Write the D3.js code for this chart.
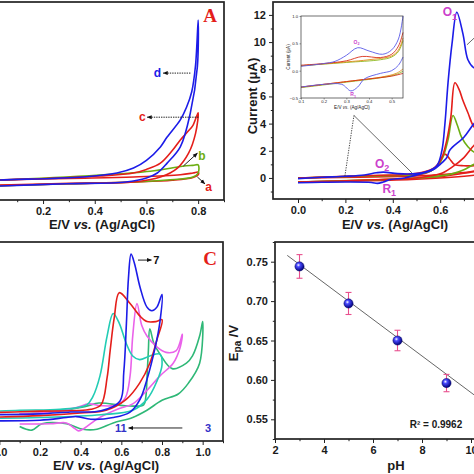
<!DOCTYPE html>
<html>
<head>
<meta charset="utf-8">
<script src="https://cdn.jsdelivr.net/npm/d3@7"></script>
<style>
  body { margin: 0; background: #fff; }
  svg { display: block; font-family: "Liberation Sans", Arial, sans-serif; }
  .axis text { font-size: 11px; font-weight: bold; fill: #1a1a1a; }
  .axis line { stroke: #222; }
  .axis path { display: none; }
  .inax text { font-size: 4.2px; fill: #222; }
  .inax line { stroke: #333; stroke-width: 0.5; }
  .inax path { display: none; }
  .ttl { font-size: 13px; font-weight: bold; fill: #1a1a1a; }
</style>
</head>
<body>
<svg id="fig" width="474" height="474"></svg>
<script>
// ---- data ----
// Panel A : CV curves a-d  [E (V), i (arb.)]
const cvA_a = [[-0.1,-0.5],[0.03,-0.4],[0.3,-0.2],[0.55,0.0],[0.7,0.2],[0.78,0.5],[0.8,0.8],[0.8,1.1],[0.78,1.0],[0.731,0.8],[0.55,0.56],[0.3,0.4],[0.03,0.22],[-0.1,0.1]];
const cvA_b = [[-0.1,-0.5],[0.03,-0.4],[0.3,-0.2],[0.55,0.0],[0.68,0.22],[0.78,0.56],[0.8,1.0],[0.8,1.9],[0.78,1.85],[0.74,1.75],[0.615,1.2],[0.42,0.78],[0.03,0.22],[-0.1,0.1]];
const cvA_c = [[-0.1,-0.45],[0.03,-0.33],[0.3,-0.15],[0.55,0.0],[0.654,0.55],[0.72,1.55],[0.763,3.2],[0.79,5.4],[0.8,7.7],[0.78,6.3],[0.76,5.6],[0.731,4.67],[0.7,3.5],[0.654,2.1],[0.6,1.4],[0.55,1.0],[0.42,0.67],[0.03,0.22],[-0.1,0.1]];
const cvA_d = [[-0.1,-0.55],[0.03,-0.44],[0.29,-0.2],[0.52,0.0],[0.6,0.44],[0.642,1.0],[0.68,2.1],[0.731,3.9],[0.77,7.7],[0.797,12.8],[0.8,18],[0.79,13],[0.775,10],[0.755,8.3],[0.731,6.9],[0.68,5],[0.654,3.9],[0.6,2.4],[0.55,1.55],[0.486,1.0],[0.356,0.56],[0.03,0.22],[-0.1,0.05]];

// Panel B : CVs (current in uA)
const cvB_flat = [[0,-0.3],[0.5,-0.1],[0.78,0.3],[0.8,0.45],[0.78,0.55],[0.7,0.4],[0.6,0.25],[0.5,0.15],[0,0.0]];
const cvB_small = [[0,-0.3],[0.3,-0.15],[0.6,0.1],[0.7,0.35],[0.78,0.6],[0.8,0.8],[0.78,1.0],[0.743,0.9],[0.7,0.9],[0.66,1.0],[0.64,1.4],[0.62,1.75],[0.59,1.0],[0.56,0.5],[0.5,0.2],[0.3,0.12],[0,0.0]];
const cvB_green = [[0,-0.3],[0.3,-0.15],[0.55,0.05],[0.65,0.3],[0.7,0.6],[0.743,1.0],[0.78,1.2],[0.8,1.45],[0.78,1.7],[0.743,1.9],[0.717,2.3],[0.69,3.0],[0.672,3.9],[0.654,4.6],[0.633,2.8],[0.612,1.55],[0.59,0.9],[0.56,0.5],[0.5,0.25],[0.3,0.15],[0,0.0]];
const cvB_red = [[0,-0.3],[0.3,-0.15],[0.5,0.0],[0.6,0.3],[0.65,0.8],[0.7,1.5],[0.743,2.4],[0.78,2.9],[0.8,3.2],[0.78,3.3],[0.743,3.75],[0.717,4.8],[0.696,5.7],[0.68,6.5],[0.662,7.0],[0.645,4.5],[0.628,2.8],[0.607,1.5],[0.58,0.8],[0.52,0.4],[0.45,0.25],[0.35,0.2],[0.2,0.12],[0,0.0]];
const cvB_blue = [[0,-0.35],[0.1,-0.32],[0.2,-0.3],[0.31,-0.33],[0.335,-0.4],[0.36,-0.3],[0.39,-0.12],[0.45,0.0],[0.53,0.37],[0.57,0.6],[0.6,1.0],[0.628,1.5],[0.641,2.06],[0.7,3.0],[0.743,4.0],[0.78,4.6],[0.82,5.5],[0.82,8.5],[0.78,8.0],[0.743,8.1],[0.717,8.7],[0.696,10.6],[0.67,12.2],[0.65,9.9],[0.633,7.0],[0.62,4.0],[0.607,2.0],[0.586,0.9],[0.54,0.45],[0.48,0.3],[0.42,0.32],[0.36,0.43],[0.33,0.38],[0.28,0.22],[0.2,0.12],[0.1,0.05],[0,-0.05]];

// Inset of panel B
const inBlueUp = [[0.1,0.08],[0.2,0.13],[0.25,0.17],[0.3,0.28],[0.35,0.42],[0.4,0.36],[0.46,0.3],[0.5,0.38],[0.53,0.58],[0.55,1.0]];
const inBlueLo = [[0.1,-0.3],[0.2,-0.25],[0.28,-0.25],[0.32,-0.37],[0.35,-0.3],[0.38,-0.15],[0.45,-0.05],[0.5,0.0],[0.53,0.1],[0.55,0.25]];
const inRedUp = [[0.1,0.1],[0.2,0.13],[0.3,0.18],[0.37,0.26],[0.45,0.24],[0.5,0.3],[0.53,0.45],[0.55,0.7]];
const inOrgUp = [[0.1,0.09],[0.3,0.16],[0.4,0.2],[0.5,0.27],[0.53,0.38],[0.55,0.6]];
const inGrnUp = [[0.1,0.09],[0.3,0.15],[0.45,0.2],[0.5,0.25],[0.53,0.35],[0.55,0.55]];
const inRedLo = [[0.1,-0.3],[0.3,-0.2],[0.4,-0.15],[0.5,-0.1],[0.55,-0.05]];
const inOrgLo = [[0.1,-0.3],[0.3,-0.2],[0.45,-0.12],[0.52,-0.05],[0.55,0.03]];
const inGrnLo = [[0.1,-0.31],[0.3,-0.21],[0.45,-0.13],[0.52,-0.07],[0.55,-0.01]];

// Panel C : CVs at different pH (arb. current)
const cvC_sea = [[0.1,-0.2],[0.16,-0.4],[0.21,-0.05],[0.33,-0.05],[0.41,-0.35],[0.48,-0.35],[0.56,0.0],[0.656,0.3],[0.726,0.7],[0.8,1.25],[0.88,1.6],[0.93,2.2],[0.985,3.3],[1.0,5.6],[0.985,4.8],[0.95,3.7],[0.92,3.3],[0.85,3.0],[0.79,3.8],[0.76,4.4],[0.74,5.2],[0.733,4.0],[0.728,2.9],[0.72,1.4],[0.71,1.0],[0.62,0.95],[0.49,1.1],[0.42,0.9],[0.25,0.6],[0.1,0.5]];
const cvC_pink = [[0.1,-0.06],[0.25,-0.05],[0.33,0.0],[0.37,-0.3],[0.39,-0.44],[0.42,-0.28],[0.49,0.28],[0.59,0.8],[0.656,1.05],[0.726,1.8],[0.79,2.6],[0.855,3.3],[0.89,4.2],[0.9,4.9],[0.87,4.0],[0.82,3.9],[0.775,4.2],[0.726,4.8],[0.7,5.4],[0.677,6.6],[0.656,4.8],[0.643,2.6],[0.62,1.4],[0.58,1.0],[0.5,0.95],[0.44,1.05],[0.38,0.85],[0.25,0.6],[0.1,0.5]];
const cvC_teal = [[-0.1,0.25],[0.2,0.3],[0.5,0.45],[0.656,0.7],[0.726,1.3],[0.775,2.3],[0.8,3.2],[0.79,3.8],[0.74,3.7],[0.69,3.5],[0.656,3.7],[0.624,4.4],[0.59,5.5],[0.56,6.05],[0.53,4.8],[0.495,2.6],[0.46,1.45],[0.43,1.0],[0.3,0.75],[0.1,0.7],[-0.1,0.6]];
const cvC_red = [[-0.1,0.3],[0.2,0.4],[0.4,0.55],[0.525,0.7],[0.624,1.3],[0.69,2.2],[0.74,3.3],[0.775,4.6],[0.8,5.7],[0.77,5.6],[0.726,5.6],[0.692,5.9],[0.643,6.6],[0.59,7.2],[0.565,5.8],[0.545,4.0],[0.53,2.5],[0.5,1.0],[0.45,0.75],[0.2,0.65],[-0.1,0.55]];
const cvC_blue = [[-0.1,0.12],[0.2,0.15],[0.33,0.3],[0.38,0.35],[0.45,0.2],[0.56,0.3],[0.643,0.6],[0.692,1.3],[0.726,2.4],[0.767,4.2],[0.79,5.6],[0.8,7.1],[0.775,6.4],[0.75,6.2],[0.726,6.4],[0.692,7.5],[0.665,8.8],[0.648,9.33],[0.635,8.0],[0.625,5.5],[0.612,2.8],[0.593,1.2],[0.5,0.67],[0.35,0.6],[0.2,0.5],[-0.1,0.45]];

// Panel D : Epa vs pH
const pH = [3, 5, 7, 9];
const Epa = [0.744, 0.697, 0.650, 0.596];
const EpaErr = [0.015, 0.014, 0.013, 0.011];
const fitLine = [[2.5, 0.758], [10.6, 0.570]];

// ---- drawing ----
const svg = d3.select("#fig");
const defs = svg.append("defs");
defs.append("marker").attr("id", "ah").attr("viewBox", "0 0 10 10")
  .attr("refX", 9).attr("refY", 5).attr("markerWidth", 5).attr("markerHeight", 5)
  .attr("orient", "auto-start-reverse")
  .append("path").attr("d", "M0,1L10,5L0,9z").attr("fill", "#111");
const rg = defs.append("radialGradient").attr("id", "ball").attr("cx", "38%").attr("cy", "35%").attr("r", "65%");
rg.append("stop").attr("offset", "0%").attr("stop-color", "#ffffff");
rg.append("stop").attr("offset", "30%").attr("stop-color", "#4a4aff");
rg.append("stop").attr("offset", "100%").attr("stop-color", "#00007a");

const cBlue = "#1c1ce8", cRed = "#e41e1a", cGreen = "#6cae12", cMag = "#cc3fcc";

function drawCurve(g, data, x, y, color, w) {
  g.append("path").datum(data)
    .attr("fill", "none").attr("stroke", color).attr("stroke-width", w || 1.6)
    .attr("stroke-linejoin", "round")
    .attr("d", d3.line().x(d => x(d[0])).y(d => y(d[1])).curve(d3.curveCatmullRom.alpha(0.5)));
}

function xAxisTicks(x, yPos, major, minor, fmt) {
  svg.append("g").attr("class", "axis").attr("transform", `translate(0,${yPos})`)
    .call(d3.axisBottom(x).tickValues(major).tickSize(4).tickPadding(3).tickFormat(fmt));
  svg.append("g").attr("class", "axis").attr("transform", `translate(0,${yPos})`)
    .call(d3.axisBottom(x).tickValues(minor).tickSize(2.2).tickFormat(""));
}
function yAxisTicks(y, xPos, major, minor, fmt) {
  svg.append("g").attr("class", "axis").attr("transform", `translate(${xPos},0)`)
    .call(d3.axisLeft(y).tickValues(major).tickSize(4).tickPadding(3).tickFormat(fmt));
  svg.append("g").attr("class", "axis").attr("transform", `translate(${xPos},0)`)
    .call(d3.axisLeft(y).tickValues(minor).tickSize(2.2).tickFormat(""));
}
function frame(x0, y0, x1, y1) {
  svg.append("rect").attr("x", x0).attr("y", y0).attr("width", x1 - x0).attr("height", y1 - y0)
    .attr("fill", "none").attr("stroke", "#222").attr("stroke-width", 1.7);
}
function xTitle(cx, by, size) {
  const t = svg.append("text").attr("x", cx).attr("y", by).attr("text-anchor", "middle").attr("class", "ttl");
  if (size) t.style("font-size", size + "px");
  t.append("tspan").text("E/V ");
  t.append("tspan").attr("font-style", "italic").text("vs.");
  t.append("tspan").text(" (Ag/AgCl)");
  return t;
}
function subLabel(x, y, main, sub, color, size) {
  const t = svg.append("text").attr("x", x).attr("y", y).attr("text-anchor", "middle")
    .attr("fill", color).attr("font-weight", "bold").style("font-size", size + "px");
  t.append("tspan").text(main);
  t.append("tspan").attr("dy", size * 0.3).style("font-size", (size * 0.75) + "px").text(sub);
}
function arrow(x1, y1, x2, y2, dashed) {
  svg.append("line").attr("x1", x1).attr("y1", y1).attr("x2", x2).attr("y2", y2)
    .attr("stroke", "#222").attr("stroke-width", 1)
    .attr("stroke-dasharray", dashed ? "1.4,1" : null)
    .attr("marker-end", "url(#ah)");
}
const f1 = d3.format(".1f"), f2 = d3.format(".2f");
// labels that fall outside the cropped picture are left blank
const f1in = lim => d => (d < lim[0] || d > lim[1]) ? "" : f1(d);

// ===== Panel A =====
const xA = d3.scaleLinear().domain([-0.1, 0.9]).range([-34.5, 224]);
const yA = d3.scaleLinear().domain([-2, 20]).range([200, 2]);
const gA = svg.append("g");
drawCurve(gA, cvA_a, xA, yA, cRed);
drawCurve(gA, cvA_b, xA, yA, cGreen);
drawCurve(gA, cvA_c, xA, yA, cRed);
drawCurve(gA, cvA_d, xA, yA, cBlue);
frame(-40, 2, 224, 200);
xAxisTicks(xA, 200, [0, 0.2, 0.4, 0.6, 0.8], [0.1, 0.3, 0.5, 0.7, 0.9], f1in([0.1, 0.9]));
xTitle(102, 229);
svg.append("text").attr("x", 210).attr("y", 22).attr("text-anchor", "middle")
  .attr("fill", cRed).attr("font-family", "Liberation Serif").attr("font-weight", "bold")
  .style("font-size", "19px").text("A");
arrow(xA(0.77), yA(12.1), xA(0.665), yA(12.1), true);
arrow(xA(0.801), yA(7.2), xA(0.603), yA(7.2), true);
arrow(xA(0.743), yA(1.78), xA(0.797), yA(3.2), false);
arrow(xA(0.797), yA(0.56), xA(0.826), yA(-0.2), false);
[["d", 0.642, 12.1, cBlue], ["c", 0.584, 7.2, cRed], ["b", 0.815, 2.9, cGreen], ["a", 0.84, -0.6, cRed]]
  .forEach(l => svg.append("text").attr("x", xA(l[1])).attr("y", yA(l[2]) + 4)
    .attr("text-anchor", "middle").attr("fill", l[3]).attr("font-weight", "bold")
    .style("font-size", "12px").text(l[0]));

// ===== Panel B =====
const xB = d3.scaleLinear().domain([-0.1, 0.9]).range([274.3, 511.3]);
const yB = d3.scaleLinear().domain([-1.55, 12.95]).range([199, 2]);
const gB = svg.append("g");
drawCurve(gB, cvB_flat, xB, yB, cRed);
drawCurve(gB, cvB_small, xB, yB, cRed);
drawCurve(gB, cvB_green, xB, yB, cGreen);
drawCurve(gB, cvB_red, xB, yB, cRed);
drawCurve(gB, cvB_blue, xB, yB, cBlue);
frame(273, 2, 520, 199);
xAxisTicks(xB, 199, [0, 0.2, 0.4, 0.6, 0.8], [0.1, 0.3, 0.5, 0.7], f1in([-0.1, 0.7]));
yAxisTicks(yB, 273, [0, 2, 4, 6, 8, 10, 12], [-1, 1, 3, 5, 7, 9, 11], d3.format("d"));
xTitle(395, 229);
svg.append("text").attr("class", "ttl").attr("transform", "translate(257,96) rotate(-90)")
  .attr("text-anchor", "middle").text("Current (\u03bcA)");
subLabel(xB(0.641), yB(11.9), "O", "1", cMag, 12);
subLabel(xB(0.355), yB(0.75), "O", "2", cMag, 12);
subLabel(xB(0.385), yB(-1.1), "R", "1", cMag, 12);
// zoom lines to the inset
svg.append("line").attr("x1", xB(0.198)).attr("y1", yB(0.15)).attr("x2", xB(0.236)).attr("y2", yB(4.6))
  .attr("stroke", "#333").attr("stroke-width", 0.9).attr("stroke-dasharray", "1.3,1.2");
svg.append("line").attr("x1", xB(0.236)).attr("y1", yB(4.6)).attr("x2", xB(0.481)).attr("y2", yB(0.37))
  .attr("stroke", "#444").attr("stroke-width", 0.8);
svg.append("line").attr("x1", xB(0.713)).attr("y1", yB(9.8)).attr("x2", xB(0.78)).attr("y2", yB(10.9))
  .attr("stroke", "#444").attr("stroke-width", 0.8);

// inset
const xI = d3.scaleLinear().domain([0.1, 0.55]).range([301, 403]);
const yI = d3.scaleLinear().domain([-0.5, 1.0]).range([98, 16]);
svg.append("rect").attr("x", 301).attr("y", 16).attr("width", 102).attr("height", 82).attr("fill", "#fff");
const gI = svg.append("g");
[[inGrnLo, "#8cb81c"], [inOrgLo, "#e08a1a"], [inRedLo, "#d8301a"], [inBlueLo, "#5a5ae8"],
 [inGrnUp, "#8cb81c"], [inOrgUp, "#e08a1a"], [inRedUp, "#d8301a"], [inBlueUp, "#5a5ae8"]]
  .forEach(c => drawCurve(gI, c[0], xI, yI, c[1], 0.9));
svg.append("rect").attr("x", 301).attr("y", 16).attr("width", 102).attr("height", 82)
  .attr("fill", "none").attr("stroke", "#333").attr("stroke-width", 0.7);
svg.append("g").attr("class", "inax").attr("transform", "translate(0,98)")
  .call(d3.axisBottom(xI).tickValues([0.1, 0.2, 0.3, 0.4, 0.5]).tickSize(1.5).tickPadding(1).tickFormat(f1));
svg.append("g").attr("class", "inax").attr("transform", "translate(301,0)")
  .call(d3.axisLeft(yI).tickValues([-0.5, 0, 0.5, 1.0]).tickSize(1.5).tickPadding(1.5).tickFormat(f1));
xTitle(352, 109, 4.6).style("font-weight", "normal");
svg.append("text").attr("transform", "translate(290,57) rotate(-90)").attr("text-anchor", "middle")
  .style("font-size", "4.6px").attr("fill", "#222").text("Current (\u03bcA)");
subLabel(xI(0.345), yI(0.49), "O", "2", cMag, 5);
subLabel(xI(0.33), yI(-0.47), "R", "1", cMag, 5);

// ===== Panel C =====
const xC = d3.scaleLinear().domain([-0.1, 1.1]).range([-21, 223]);
const yC = d3.scaleLinear().domain([-1, 10]).range([441, 242]);
const gC = svg.append("g");
drawCurve(gC, cvC_sea, xC, yC, "#2fb877");
drawCurve(gC, cvC_pink, xC, yC, "#ea62ea");
drawCurve(gC, cvC_teal, xC, yC, "#22ccb4");
drawCurve(gC, cvC_red, xC, yC, cRed);
drawCurve(gC, cvC_blue, xC, yC, cBlue);
frame(-30, 242, 223, 441);
xAxisTicks(xC, 441, [0, 0.2, 0.4, 0.6, 0.8, 1.0], [0.1, 0.3, 0.5, 0.7, 0.9, 1.1], f1);
xTitle(106, 470);
svg.append("text").attr("x", 210).attr("y", 265).attr("text-anchor", "middle")
  .attr("fill", cRed).attr("font-family", "Liberation Serif").attr("font-weight", "bold")
  .style("font-size", "19px").text("C");
arrow(xC(0.682), yC(9.0), xC(0.748), yC(9.0), false);
arrow(xC(0.9), yC(-0.28), xC(0.636), yC(-0.28), false);
svg.append("text").attr("x", xC(0.772)).attr("y", yC(9.0) + 4).attr("text-anchor", "middle")
  .attr("font-weight", "bold").style("font-size", "11px").attr("fill", "#111").text("7");
svg.append("text").attr("x", xC(0.598)).attr("y", yC(-0.28) + 4).attr("text-anchor", "middle")
  .attr("font-weight", "bold").style("font-size", "11px").attr("fill", "#3232c8").text("11");
svg.append("text").attr("x", xC(1.026)).attr("y", yC(-0.28) + 4).attr("text-anchor", "middle")
  .attr("font-weight", "bold").style("font-size", "11px").attr("fill", "#3232c8").text("3");

// ===== Panel D =====
const xD = d3.scaleLinear().domain([2, 10.6]).range([275, 485.7]);
const yD = d3.scaleLinear().domain([0.525, 0.775]).range([439, 242]);
frame(275, 242, 520, 439);
xAxisTicks(xD, 439, [2, 4, 6, 8, 10], [3, 5, 7, 9], d3.format("d"));
yAxisTicks(yD, 275, [0.55, 0.6, 0.65, 0.7, 0.75], [0.525, 0.575, 0.625, 0.675, 0.725, 0.775], f2);
svg.append("path").datum(fitLine).attr("fill", "none").attr("stroke", "#555").attr("stroke-width", 0.9)
  .attr("d", d3.line().x(d => xD(d[0])).y(d => yD(d[1])));
const pts = pH.map((p, i) => ({ p: p, e: Epa[i], s: EpaErr[i] }));
const gD = svg.append("g");
gD.selectAll("line.eb").data(pts).join("line").attr("class", "eb")
  .attr("x1", d => xD(d.p)).attr("x2", d => xD(d.p))
  .attr("y1", d => yD(d.e - d.s)).attr("y2", d => yD(d.e + d.s))
  .attr("stroke", "#e8508e").attr("stroke-width", 1.1);
[-1, 1].forEach(sg => gD.selectAll("line.cap" + sg).data(pts).join("line")
  .attr("x1", d => xD(d.p) - 3).attr("x2", d => xD(d.p) + 3)
  .attr("y1", d => yD(d.e + sg * d.s)).attr("y2", d => yD(d.e + sg * d.s))
  .attr("stroke", "#e8508e").attr("stroke-width", 1.1));
gD.selectAll("circle").data(pts).join("circle")
  .attr("cx", d => xD(d.p)).attr("cy", d => yD(d.e)).attr("r", 4.6)
  .attr("fill", "url(#ball)").attr("stroke", "#000060").attr("stroke-width", 0.5);
svg.append("text").attr("x", 396).attr("y", 470).attr("text-anchor", "middle").attr("class", "ttl").text("pH");
const yl = svg.append("text").attr("class", "ttl").attr("transform", "translate(238,343) rotate(-90)")
  .attr("text-anchor", "middle");
yl.append("tspan").text("E");
yl.append("tspan").attr("dy", 3).style("font-size", "10px").text("pa");
yl.append("tspan").attr("dy", -3).text(" /V");
svg.append("text").attr("x", xD(8.57)).attr("y", yD(0.539)).attr("text-anchor", "middle")
  .attr("font-weight", "bold").style("font-size", "10px").attr("fill", "#1a1a1a").text("R\u00b2 = 0.9962");
</script>
</body>
</html>
